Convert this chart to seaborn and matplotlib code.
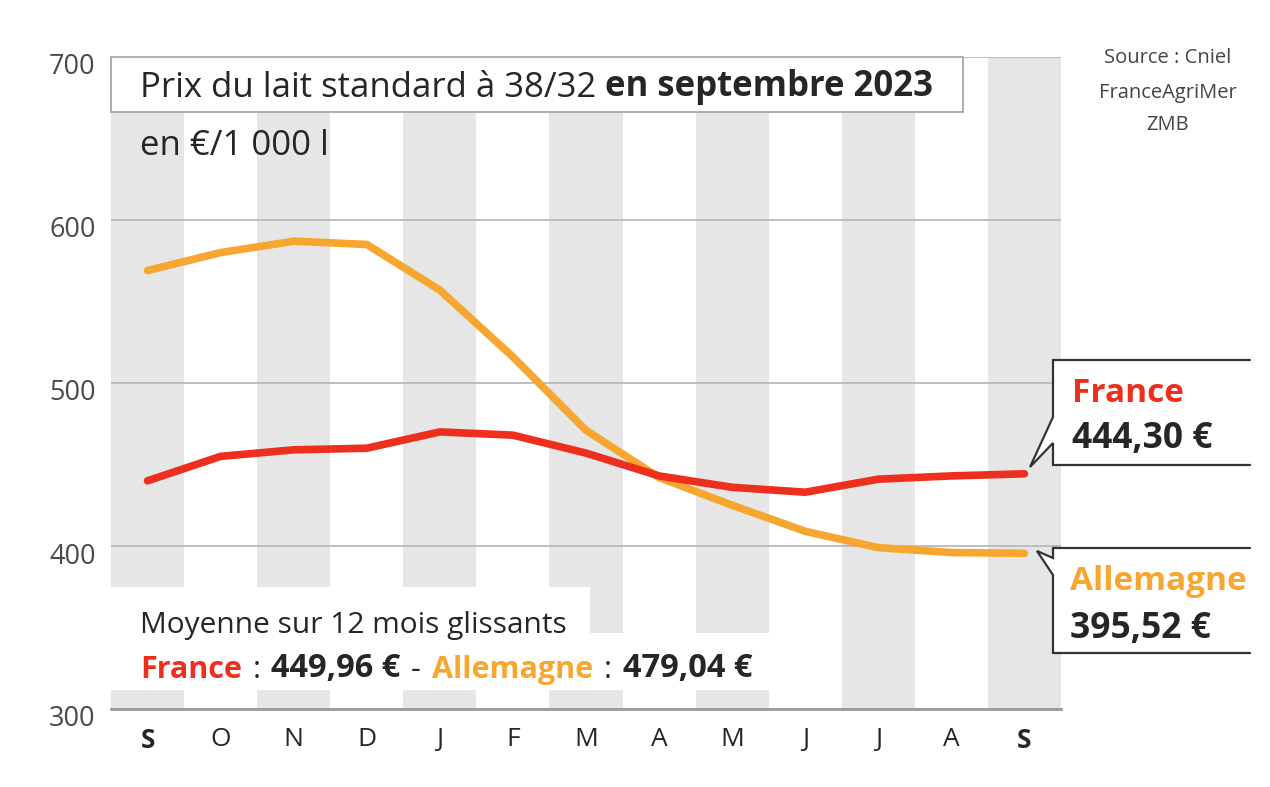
import matplotlib
matplotlib.use('Agg')
import matplotlib.pyplot as plt
import matplotlib.transforms as mtransforms
from matplotlib.lines import Line2D
from matplotlib.patches import Polygon, Rectangle
import pandas as pd
import seaborn as sns

# data
mois = ['S', 'O', 'N', 'D', 'J', 'F', 'M', 'A', 'M', 'J', 'J', 'A', 'S']
france = [440, 455, 459, 460, 470, 468, 457, 443, 436, 433, 441, 443, 444.3]
allemagne = [569, 580, 587, 585, 557, 516, 471, 442, 425, 409, 399, 396, 395.5]
yticks = [300, 400, 500, 600, 700]
moy_france = '449,96 €'
moy_allemagne = '479,04 €'
dernier_france = '444,30 €'
dernier_allemagne = '395,52 €'
sources = ['Source : Cniel', 'FranceAgriMer', 'ZMB']

RED = '#EF2F1E'
ORANGE = '#F7A630'
DARK = '#262626'
BAND = '#E6E6E6'

sns.set_style('white')
plt.rcParams['font.family'] = ['Open Sans', 'DejaVu Sans']

W, H = 1270, 787
fig = plt.figure(figsize=(W / 100, H / 100), dpi=100)
ax = fig.add_axes([111 / W, 1 - 709 / H, 950 / W, 652 / H])


def px(x, y):
    # pixel position (from top left) -> figure fraction
    return x / W, 1 - y / H


# alternate grey month bands
for i in range(0, len(mois), 2):
    ax.axvspan(i - 0.5, i + 0.5, color=BAND, lw=0, zorder=0)

df = pd.DataFrame({
    'idx': list(range(len(mois))) * 2,
    'prix': allemagne + france,
    'pays': ['Allemagne'] * len(mois) + ['France'] * len(mois),
})
sns.lineplot(data=df, x='idx', y='prix', hue='pays',
             palette={'France': RED, 'Allemagne': ORANGE},
             linewidth=5.5, legend=False, ax=ax, zorder=3,
             solid_capstyle='round', solid_joinstyle='round')

ax.set_xlim(-0.5, len(mois) - 0.5)
ax.set_ylim(300, 700)
ax.set_xlabel('')
ax.set_ylabel('')
ax.set_yticks(yticks)
ax.set_xticks(range(len(mois)), mois)
ax.set_axisbelow(True)
ax.yaxis.grid(True, color='#B9B9B9', lw=1.3)
ax.xaxis.grid(False)
sns.despine(ax=ax, left=True)
ax.spines['bottom'].set_color('#9A9A9A')
ax.spines['bottom'].set_linewidth(2)

ax.tick_params(axis='y', length=0, labelsize=19.5, labelcolor='#4A4A4A', pad=11)
ax.tick_params(axis='x', length=0, labelsize=19, labelcolor=DARK, pad=13)
xl = ax.get_xticklabels()
xl[0].set_fontweight('bold')
xl[-1].set_fontweight('bold')
off = mtransforms.ScaledTranslation(0, -0.07, fig.dpi_scale_trans)
for lab in ax.get_yticklabels():
    lab.set_transform(lab.get_transform() + off)

# white boxes (title at top, averages at bottom)
x0, y0 = px(111, 112)
x1, y1 = px(963, 57)
ax.add_patch(Rectangle((x0, y0), x1 - x0, y1 - y0, transform=fig.transFigure,
                       facecolor='white', edgecolor='#A8A8A8', lw=1.3, zorder=2,
                       clip_on=False))
x0, y0 = px(111, 633)
x1, y1 = px(590, 587)
ax.add_patch(Rectangle((x0, y0), x1 - x0, y1 - y0, transform=fig.transFigure,
                       facecolor='white', lw=0, zorder=2))
x0, y0 = px(111, 690)
x1, y1 = px(774, 633)
ax.add_patch(Rectangle((x0, y0), x1 - x0, y1 - y0, transform=fig.transFigure,
                       facecolor='white', lw=0, zorder=2))


def chain(first, pieces):
    prev = first
    for s, gap, kw in pieces:
        prev = ax.annotate(s, xy=(1, 0), xycoords=prev, xytext=(gap, 0),
                           textcoords='offset points', va='bottom', ha='left',
                           annotation_clip=False, zorder=5, **kw)
    return prev


t = fig.text(*px(140, 97), 'Prix du lait standard à 38/32', fontsize=25,
             color=DARK, va='baseline', ha='left', zorder=5)
chain(t, [('en septembre 2023', 6, dict(fontsize=25, color=DARK, fontweight='bold'))])
fig.text(*px(140, 155), 'en €/1 000 l', fontsize=25, color=DARK,
         va='baseline', ha='left')

fig.text(*px(140, 633), 'Moyenne sur 12 mois glissants', fontsize=21.5,
         color=DARK, va='baseline', ha='left', zorder=5)
t = fig.text(*px(140, 678), 'France', fontsize=22, color=RED,
             fontweight='bold', va='baseline', ha='left', zorder=5)
reg = dict(fontsize=22, color=DARK)
bold = dict(fontsize=23.5, color=DARK, fontweight='bold')
chain(t, [(':', 7.5, reg), (moy_france, 8, bold), ('-', 7.5, reg),
          ('Allemagne', 8, dict(fontsize=22, color=ORANGE, fontweight='bold')),
          (':', 7.5, reg), (moy_allemagne, 8, bold)])

for s, y in zip(sources, [58, 93, 125]):
    fig.text(*px(1168, y), s, fontsize=14.5, color='#444444',
             ha='center', va='center')


# callouts on the right
def callout(pts):
    fx = [p[0] / W for p in pts]
    fy = [1 - p[1] / H for p in pts]
    fig.add_artist(Polygon(list(zip(fx, fy)), closed=True, transform=fig.transFigure,
                           facecolor='white', lw=0, zorder=4))
    fig.add_artist(Line2D(fx, fy, transform=fig.transFigure, color='#333333',
                          lw=1.6, zorder=5, solid_joinstyle='miter'))


callout([(1250, 360), (1053, 360), (1053, 417), (1030, 467), (1053, 443),
         (1053, 465), (1250, 465)])
callout([(1250, 548), (1053, 548), (1053, 558), (1037, 551), (1053, 575),
         (1053, 653), (1250, 653)])

fig.text(*px(1072, 402), 'France', fontsize=24, fontweight='bold', color=RED,
         va='baseline', ha='left', zorder=6)
fig.text(*px(1072, 448), dernier_france, fontsize=25.5, fontweight='bold',
         color=DARK, va='baseline', ha='left', zorder=6)
fig.text(*px(1070, 590), 'Allemagne', fontsize=24, fontweight='bold',
         color=ORANGE, va='baseline', ha='left', zorder=6)
fig.text(*px(1070, 638), dernier_allemagne, fontsize=25.5, fontweight='bold',
         color=DARK, va='baseline', ha='left', zorder=6)

fig.savefig('out.png', dpi=100, facecolor='white')
